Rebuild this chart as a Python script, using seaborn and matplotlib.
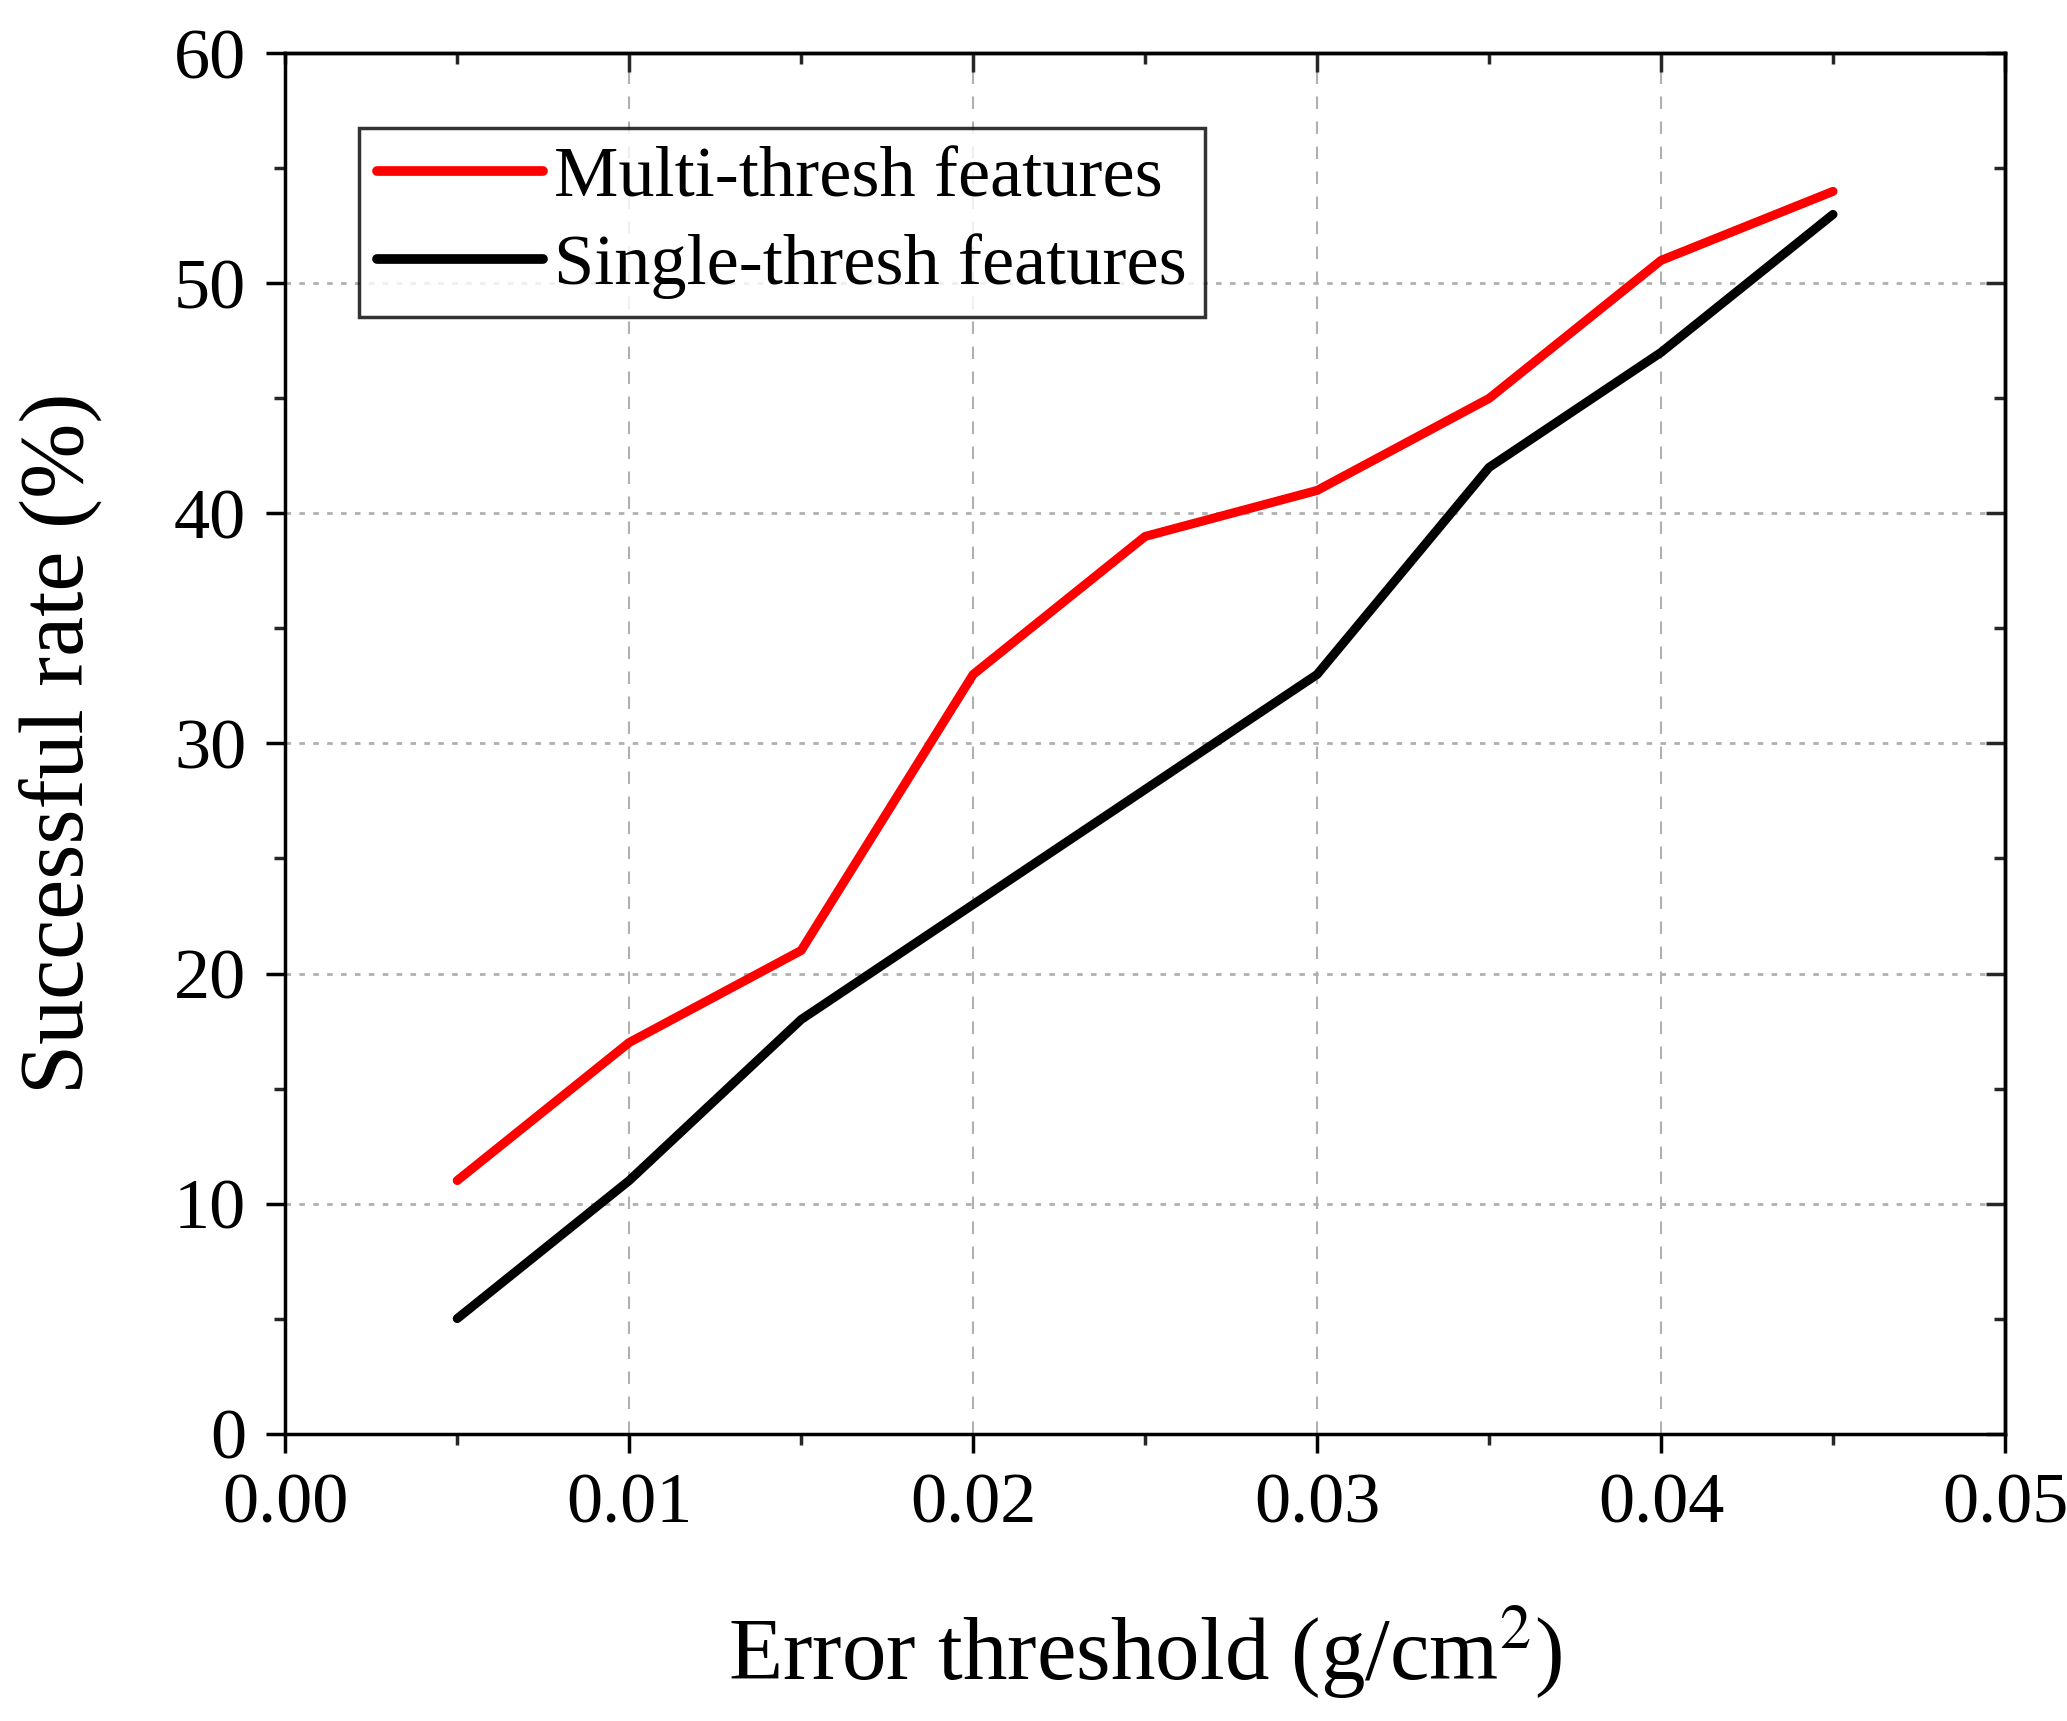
import numpy as np
import pandas as pd
import seaborn as sns
import matplotlib.pyplot as plt
from matplotlib.ticker import MultipleLocator, FormatStrFormatter

# values
thresholds = [0.005, 0.010, 0.015, 0.020, 0.025, 0.030, 0.035, 0.040, 0.045]
multi_rate = [11, 17, 21, 33, 39, 41, 45, 51, 54]
single_rate = [5, 11, 18, 23, 28, 33, 42, 47, 53]
series_names = ["Multi-thresh features", "Single-thresh features"]

df = pd.DataFrame({
    "threshold": thresholds * 2,
    "rate": multi_rate + single_rate,
    "series": [series_names[0]] * len(thresholds) + [series_names[1]] * len(thresholds),
})

sns.set_style("ticks")
plt.rcParams["font.family"] = ["Liberation Serif", "DejaVu Serif"]
plt.rcParams["mathtext.fontset"] = "stix"
plt.rcParams["text.color"] = "black"
plt.rcParams["axes.labelcolor"] = "black"

fig = plt.figure(figsize=(20.67, 17.21), dpi=100)
ax = fig.add_axes([0.138, 0.167, 0.832, 0.802])

sns.lineplot(data=df, x="threshold", y="rate", hue="series",
             palette={series_names[0]: "#ff0000", series_names[1]: "#000000"},
             linewidth=6.5, ax=ax, legend=True)

ax.set_xlim(0, 0.05)
ax.set_ylim(0, 60)
ax.xaxis.set_major_locator(MultipleLocator(0.01))
ax.xaxis.set_minor_locator(MultipleLocator(0.005))
ax.yaxis.set_major_locator(MultipleLocator(10))
ax.yaxis.set_minor_locator(MultipleLocator(5))
ax.xaxis.set_major_formatter(FormatStrFormatter("%.2f"))

# grid lines at major ticks
ax.grid(False)
for xv in [0.01, 0.02, 0.03, 0.04]:
    ax.axvline(xv, color="#b0b0b0", lw=1.5, ls=(0, (6, 6)), zorder=0)
for yv in [10, 20, 30, 40, 50]:
    ax.axhline(yv, color="#b0b0b0", lw=2, ls=(0, (2, 3)), zorder=0)

for s in ax.spines.values():
    s.set_linewidth(2.5)
    s.set_color("black")

ax.tick_params(axis="both", which="major", length=14, width=2.5, labelsize=52,
               direction="out", pad=14, colors="black")
ax.tick_params(axis="both", which="minor", length=8, width=2.5, direction="out")

# mirrored ticks on top and right pointing inward
top = ax.secondary_xaxis("top")
top.set_xticks([0.01, 0.02, 0.03, 0.04, 0.05])
top.xaxis.set_minor_locator(MultipleLocator(0.005))
top.tick_params(which="major", direction="in", length=14, width=2.5, labeltop=False)
top.tick_params(which="minor", direction="in", length=8, width=2.5)
top.spines["top"].set_linewidth(2.5)
right = ax.secondary_yaxis("right")
right.yaxis.set_major_locator(MultipleLocator(10))
right.yaxis.set_minor_locator(MultipleLocator(5))
right.tick_params(which="major", direction="in", length=14, width=2.5, labelright=False)
right.tick_params(which="minor", direction="in", length=8, width=2.5)
right.spines["right"].set_linewidth(2.5)

ax.set_xlabel("Error threshold (g/cm$^2$)", fontsize=64, labelpad=48)
ax.set_ylabel("Successful rate (%)", fontsize=65, labelpad=52)

leg = ax.legend(loc="upper left", bbox_to_anchor=(0.043, 0.946), borderaxespad=0,
                fontsize=52, frameon=True, fancybox=False, edgecolor="black",
                handlelength=2.3, handletextpad=0.15, borderpad=0.25,
                labelspacing=0.3)
leg.get_frame().set_linewidth(2.5)
for line in leg.get_lines():
    line.set_linewidth(7)

fig.savefig("out.png", dpi=100)
